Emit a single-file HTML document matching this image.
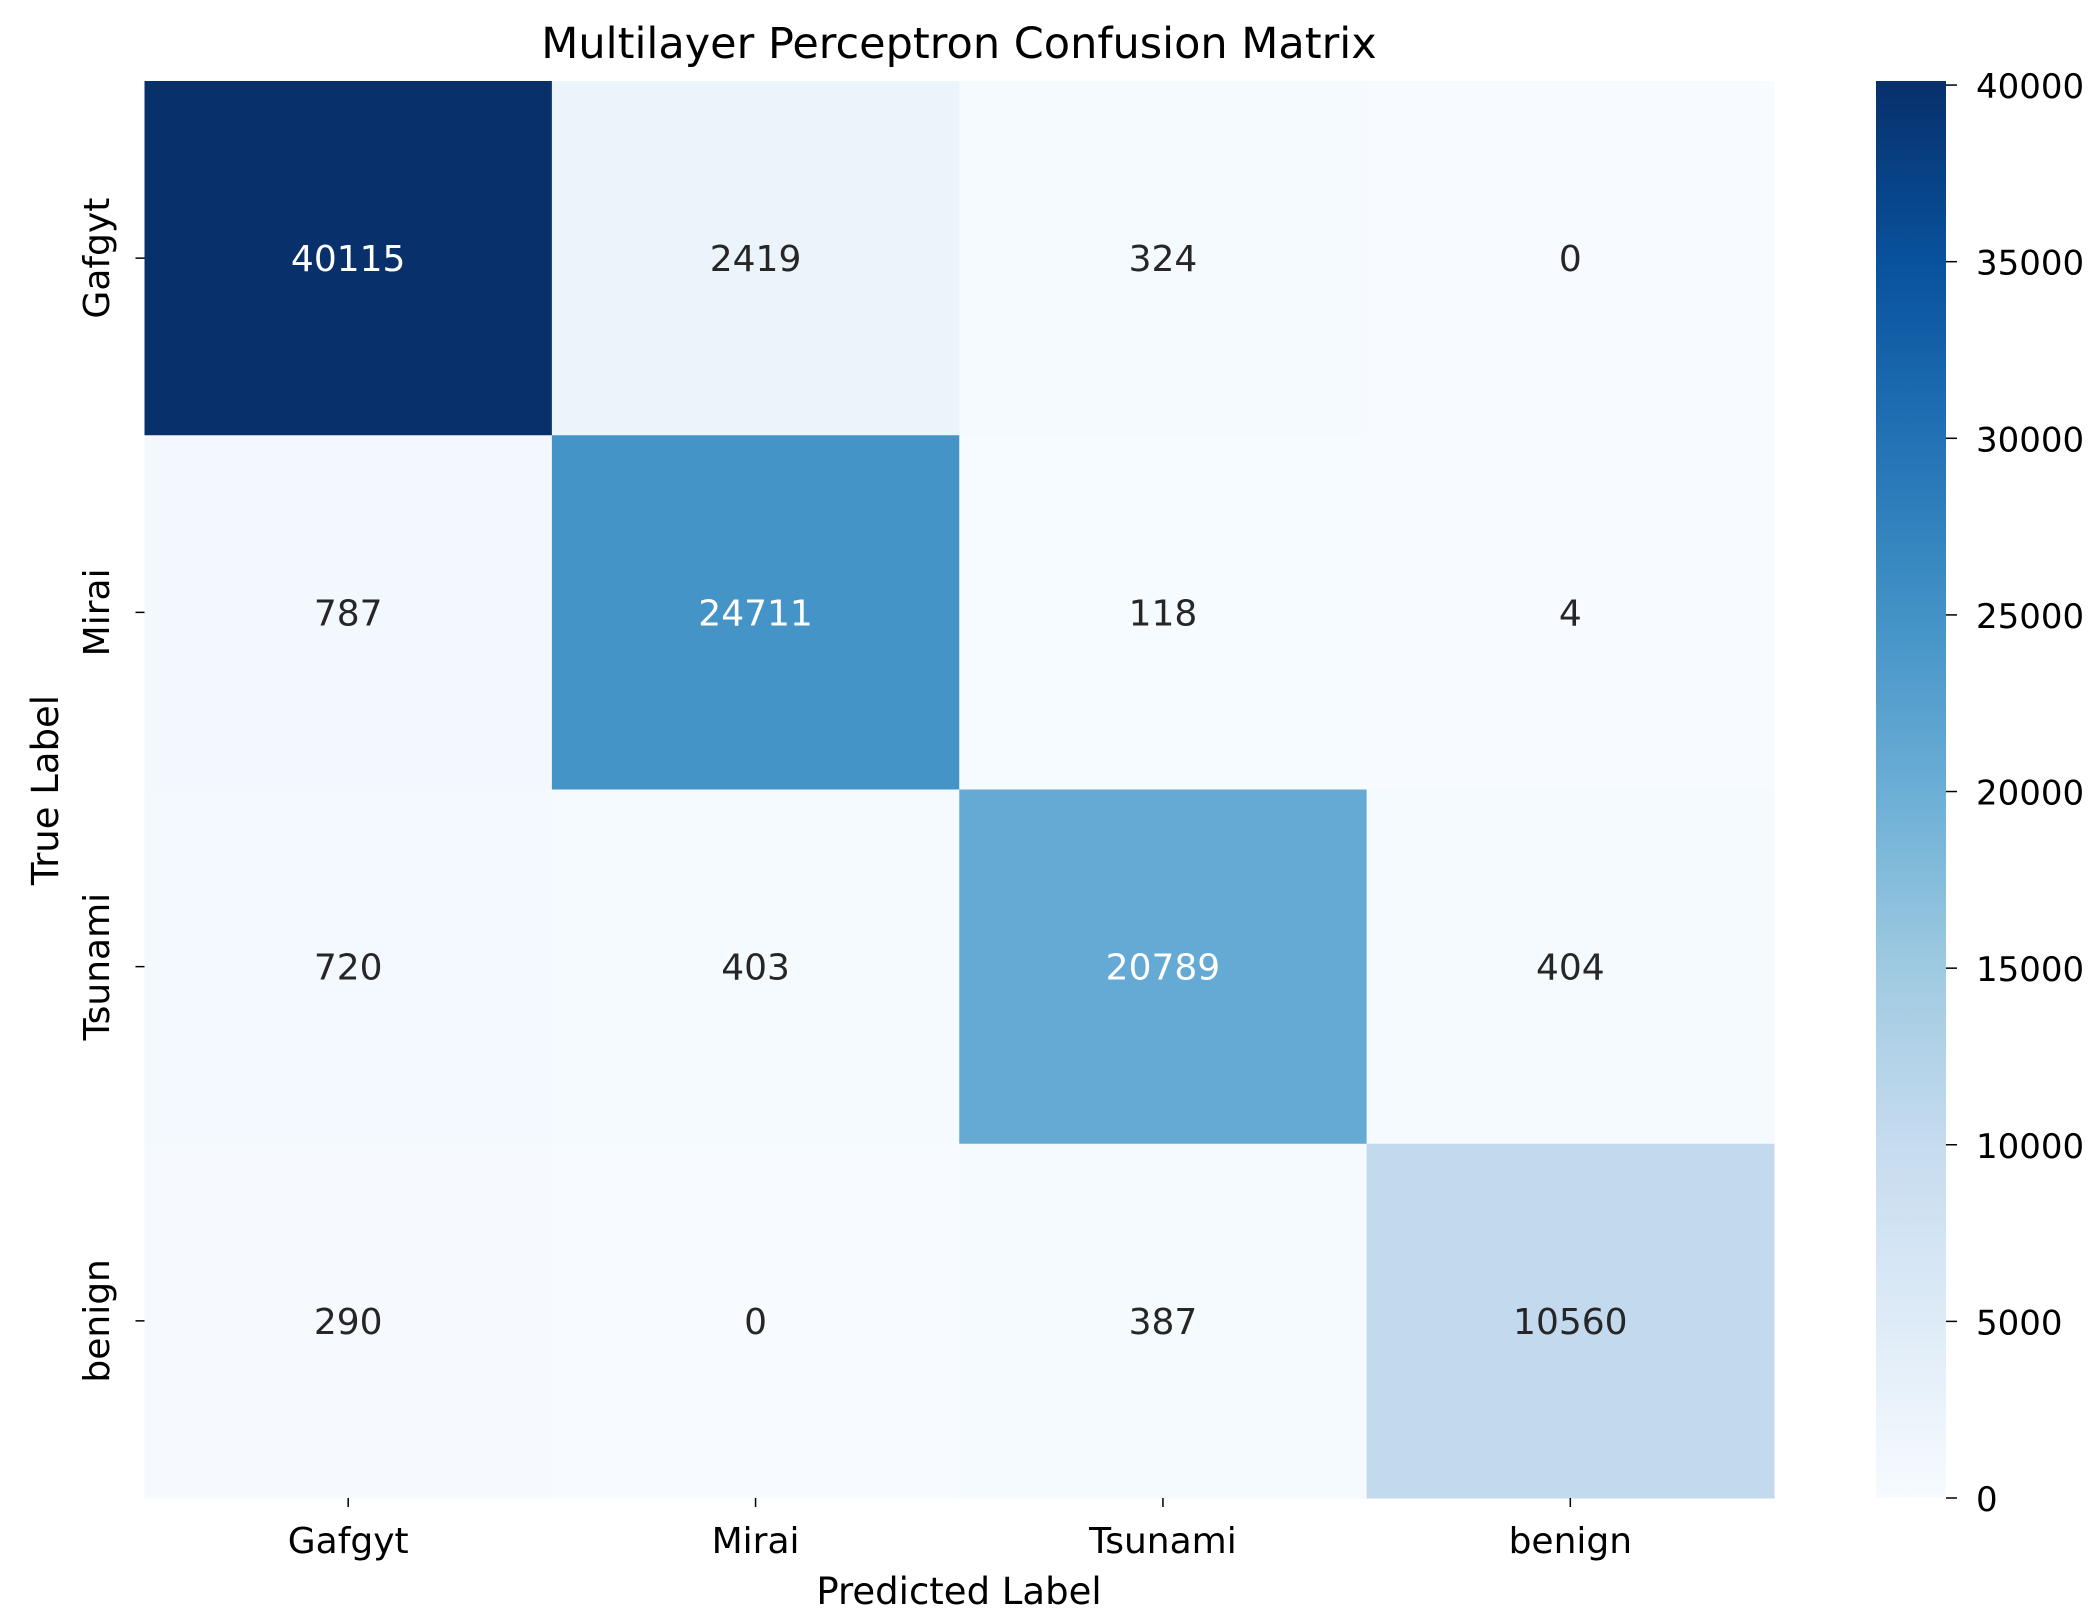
<!DOCTYPE html>
<html><head><meta charset="utf-8"><style>html,body{margin:0;padding:0;background:#fff}svg{display:block}text{font-family:"DejaVu Sans","Liberation Sans",sans-serif}</style></head>
<body>
<svg id="chart" width="2098" height="1623" viewBox="0 0 2098 1623" xmlns="http://www.w3.org/2000/svg">
<defs><linearGradient id="cbgrad" x1="0" y1="1" x2="0" y2="0">
<stop offset="0" stop-color="#f7fbff"/><stop offset="0.125" stop-color="#deebf7"/><stop offset="0.25" stop-color="#c6dbef"/><stop offset="0.375" stop-color="#9ecae1"/><stop offset="0.5" stop-color="#6baed6"/><stop offset="0.625" stop-color="#4292c6"/><stop offset="0.75" stop-color="#2171b5"/><stop offset="0.875" stop-color="#08519c"/><stop offset="1" stop-color="#08306b"/></linearGradient></defs>
<text x="959" y="58" font-size="43" text-anchor="middle" fill="#000">Multilayer Perceptron Confusion Matrix</text>
<g id="cells"></g>
<g id="axes"></g>
<rect x="1876" y="81" width="70" height="1417" fill="url(#cbgrad)"/>
<g id="cbticks"></g>
<text x="959" y="1604" font-size="37" text-anchor="middle" fill="#000">Predicted Label</text>
<text x="0" y="0" font-size="37" text-anchor="middle" fill="#000" transform="translate(58,790) rotate(-90)">True Label</text>
</svg>
<script>
const categories = ["Gafgyt","Mirai","Tsunami","benign"];
const rowGafgyt = [40115,2419,324,0];
const rowMirai = [787,24711,118,4];
const rowTsunami = [720,403,20789,404];
const rowBenign = [290,0,387,10560];
const cbTicks = [0,5000,10000,15000,20000,25000,30000,35000,40000];

const matrix = [rowGafgyt,rowMirai,rowTsunami,rowBenign];
const NS = "http://www.w3.org/2000/svg";
const L=144.5,R=1774,T=81,B=1498;
const vmin=0, vmax=Math.max(...matrix.flat());
const n=categories.length;
const cw=(R-L)/n, ch=(B-T)/n;
const xPos=i=>L+cw*i, yPos=i=>T+ch*i;
const cbY=v=>B-(v-vmin)/(vmax-vmin)*(B-T);
const stops=["#f7fbff","#deebf7","#c6dbef","#9ecae1","#6baed6","#4292c6","#2171b5","#08519c","#08306b"].map(h=>[parseInt(h.slice(1,3),16),parseInt(h.slice(3,5),16),parseInt(h.slice(5,7),16)]);
function color(v){let t=(v-vmin)/(vmax-vmin)*8;let i=Math.min(7,Math.floor(t));let f=t-i;const a=stops[i],b=stops[i+1];return a.map((c,k)=>Math.round(c+(b[k]-c)*f));}
function lum(c){const l=c.map(x=>{x/=255;return x<=0.03928?x/12.92:Math.pow((x+0.055)/1.055,2.4)});return 0.2126*l[0]+0.7152*l[1]+0.0722*l[2];}
function mk(tag,attrs,parent){const e=document.createElementNS(NS,tag);for(const k in attrs)e.setAttribute(k,attrs[k]);parent.appendChild(e);return e;}
const cells=document.getElementById('cells'), axes=document.getElementById('axes'), cbt=document.getElementById('cbticks');
matrix.forEach((row,r)=>row.forEach((v,c)=>{
  const col=color(v);
  const rect=mk('rect',{x:xPos(c),y:yPos(r),width:cw+0.5,height:ch+0.5,fill:`rgb(${col})`},cells);
  
  
  const t=mk('text',{x:xPos(c)+cw/2,y:yPos(r)+ch/2+13,'font-size':36,'text-anchor':'middle',fill:lum(col)>0.408?'#262626':'#ffffff'},cells);
  t.textContent=v;
  
  
}));
categories.forEach((c,i)=>{
  const cx=xPos(i)+cw/2, cy=yPos(i)+ch/2;
  const l1=mk('line',{x1:cx,x2:cx,y1:B,y2:B+9,stroke:'#000','stroke-width':1.5},axes);
  
  
  const t1=mk('text',{x:cx,y:1553,'font-size':36,'text-anchor':'middle',fill:'#000'},axes);
  t1.textContent=c;
  
  
  const l2=mk('line',{x1:L-9,x2:L,y1:cy,y2:cy,stroke:'#000','stroke-width':1.5},axes);
  
  
  const t2=mk('text',{x:0,y:0,'font-size':36,'text-anchor':'middle',fill:'#000',transform:`translate(109,${cy}) rotate(-90)`},axes);
  t2.textContent=c;
  
  
});
cbTicks.forEach(v=>{
  const y=cbY(v);
  const l=mk('line',{x1:1946,x2:1957,y1:y,y2:y,stroke:'#000','stroke-width':1.5},cbt);
  
  
  const t=mk('text',{x:1976,y:y+13,'font-size':34,fill:'#000'},cbt);
  t.textContent=v;
  
  
});
</script>
</body></html>
